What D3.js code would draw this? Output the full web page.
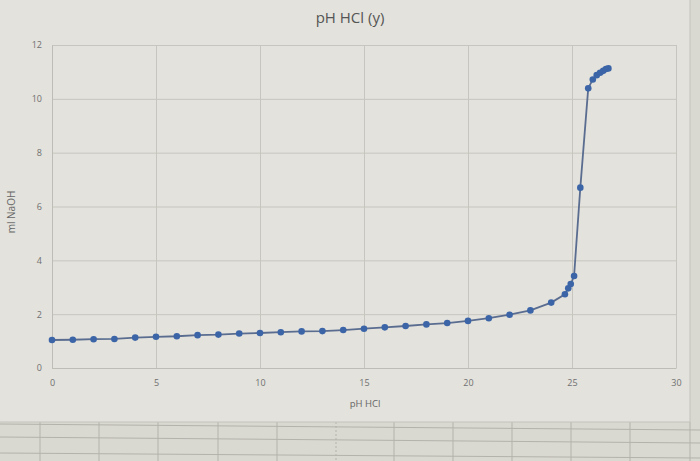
<!DOCTYPE html>
<html><head><meta charset="utf-8">
<script src="https://cdn.jsdelivr.net/npm/d3@7"></script>
<style>
html,body{margin:0;padding:0;background:#dedcd6;}
svg{display:block;font-family:"Open Sans","Liberation Sans",sans-serif;}
</style></head>
<body>
<svg id="c" width="700" height="461"></svg>
<script>
// Data
const phHCl = [0,1,2,3,4,5,6,7,8,9,10,11,12,13,14,15,16,17,18,19,20,21,22,23,24,
  24.66,24.82,24.94,25.1,25.4,25.78,26.0,26.19,26.35,26.5,26.63,26.75];
const mlNaOH = [1.04,1.05,1.07,1.08,1.13,1.16,1.18,1.22,1.24,1.28,1.30,1.33,1.36,1.37,1.41,1.46,1.51,1.56,1.62,1.67,1.75,1.85,1.98,2.14,2.43,
  2.74,2.96,3.12,3.42,6.70,10.39,10.72,10.88,10.97,11.04,11.11,11.13];
const xTicks = [0,5,10,15,20,25,30];
const yTicks = [0,2,4,6,8,10,12];
const titleText = "pH HCl (y)";
const xLabel = "pH HCl";
const yLabel = "ml NaOH";

const points = phHCl.map((x,i)=>({x, y: mlNaOH[i]}));
const svg = d3.select("#c");

// chart object background + spreadsheet cells underneath
svg.append("rect").attr("x",0).attr("y",0).attr("width",700).attr("height",461).attr("fill","#d9d8d1");
svg.append("rect").attr("x",0).attr("y",0).attr("width",690).attr("height",422).attr("fill","#e3e2dc");
const cellsG = svg.append("g").attr("stroke","#b3b2ab").attr("stroke-width",1);
[[424,430],[437,443],[453,458]].forEach(([a,b])=>cellsG.append("line").attr("x1",0).attr("x2",700).attr("y1",a).attr("y2",b));
[40,99,158,218,277,336,394,453,512,571,630,690].forEach(px=>cellsG.append("line").attr("x1",px).attr("x2",px).attr("y1",422).attr("y2",461)
  .attr("stroke-dasharray", px===336?"2,2":null));
svg.append("line").attr("x1",0).attr("x2",690).attr("y1",422).attr("y2",422).attr("stroke","#c4c3bc");
svg.append("line").attr("x1",690).attr("x2",690).attr("y1",0).attr("y2",422).attr("stroke","#c4c3bc");

const x = d3.scaleLinear().domain([0,30]).range([52,676]);
const y = d3.scaleLinear().domain([0,12]).range([368,45]);

// gridlines
const grid = svg.append("g");
grid.append("g").attr("transform",`translate(0,${y(0)})`)
  .call(d3.axisBottom(x).tickValues(xTicks).tickSize(-(y(0)-y(12))).tickFormat(""))
  .call(g=>g.select(".domain").remove())
  .call(g=>g.selectAll("line").attr("stroke","#c6c5be"));
grid.append("g").attr("transform",`translate(${x(0)},0)`)
  .call(d3.axisLeft(y).tickValues(yTicks).tickSize(-(x(30)-x(0))).tickFormat(""))
  .call(g=>g.select(".domain").remove())
  .call(g=>g.selectAll("line").attr("stroke","#c6c5be"));

// axes labels
const xa = svg.append("g").attr("transform",`translate(0,${y(0)})`)
  .call(d3.axisBottom(x).tickValues(xTicks).tickSize(0).tickPadding(12));
xa.select(".domain").attr("stroke","#bdbcb5");
xa.selectAll("text").attr("fill","#707070").attr("font-size",9).attr("font-family","Open Sans, sans-serif");
const ya = svg.append("g").attr("transform",`translate(${x(0)},0)`)
  .call(d3.axisLeft(y).tickValues(yTicks).tickSize(0).tickPadding(10));
ya.select(".domain").attr("stroke","#bdbcb5");
ya.selectAll("text").attr("fill","#707070").attr("font-size",9).attr("font-family","Open Sans, sans-serif");

// title & axis titles
svg.append("text").attr("x",350).attr("y",23).attr("text-anchor","middle")
  .attr("font-size",15).attr("fill","#555").text(titleText);
svg.append("text").attr("x",365).attr("y",407).attr("text-anchor","middle")
  .attr("font-size",9.5).attr("fill","#666").text(xLabel);
svg.append("text").attr("transform","translate(15,212) rotate(-90)").attr("text-anchor","middle")
  .attr("font-size",10).attr("fill","#666").text(yLabel);

// series
const line = d3.line().x(d=>x(d.x)).y(d=>y(d.y));
svg.append("path").datum(points).attr("d",line).attr("fill","none")
  .attr("stroke","#5a6d90").attr("stroke-width",1.8);
svg.append("g").selectAll("circle").data(points).join("circle")
  .attr("cx",d=>x(d.x)).attr("cy",d=>y(d.y)).attr("r",3.3).attr("fill","#3c65a8");
</script>
</body></html>
